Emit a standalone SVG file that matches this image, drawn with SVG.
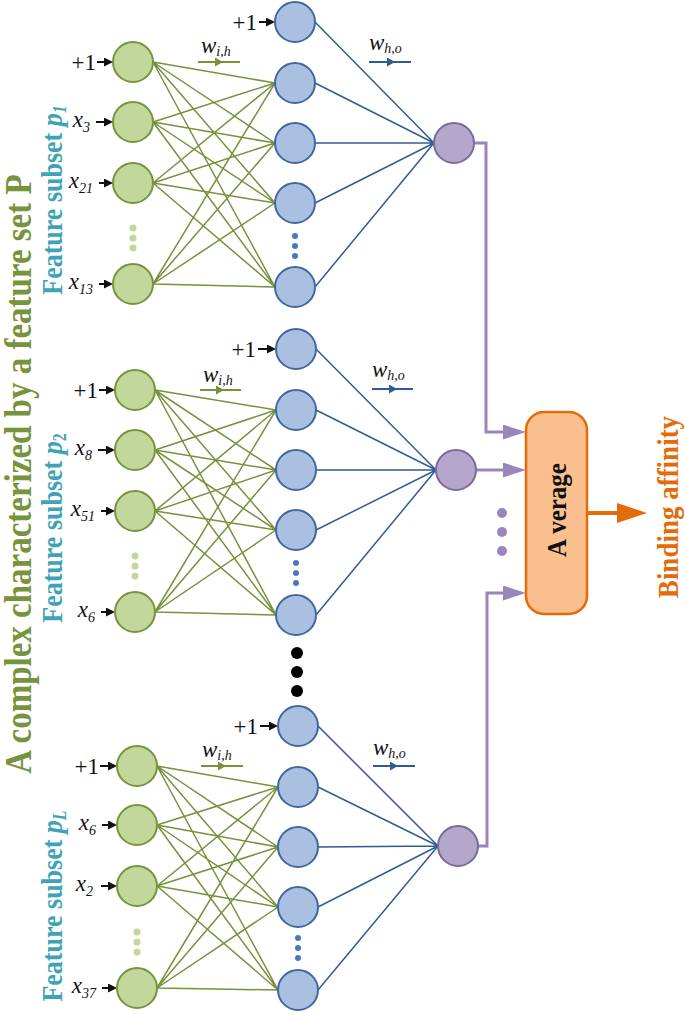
<svg xmlns="http://www.w3.org/2000/svg" width="685" height="1014" viewBox="0 0 685 1014">
<defs>
<style>
.gn{fill:#c3d69b;stroke:#77933c;stroke-width:2}
.bn{fill:#a9c0e1;stroke:#41679f;stroke-width:2}
.pn{fill:#b5a6cc;stroke:#7a6a96;stroke-width:2}
.gl{fill:none;stroke:#76923c;stroke-width:1.5}
.bl{fill:none;stroke:#2f5c97;stroke-width:1.5}
.pl{fill:none;stroke:#9a86bd;stroke-width:3}
.ka{fill:none;stroke:#111;stroke-width:2}
.gw{fill:none;stroke:#76923c;stroke-width:2}
.bw{fill:none;stroke:#2f5c97;stroke-width:2}
.lab{font-size:23px;fill:#111}
.it{font-style:italic}
.sub{font-size:14px}
.gd{fill:#c3d69b}
.bd{fill:#4a78c0}
.pd{fill:#9a86bd}
.kd{fill:#000}
.rot{font-weight:bold;text-anchor:middle}
</style>
<marker id="mk" markerUnits="userSpaceOnUse" markerWidth="10" markerHeight="10" refX="0" refY="4.5" orient="auto"><path d="M0,0 L9,4.5 L0,9 z" fill="#111"/></marker>
<marker id="mg" markerUnits="userSpaceOnUse" markerWidth="10" markerHeight="10" refX="3" refY="4.5" orient="auto"><path d="M0,0 L8,4.5 L0,9 z" fill="#76923c"/></marker>
<marker id="mb" markerUnits="userSpaceOnUse" markerWidth="10" markerHeight="10" refX="3" refY="4.5" orient="auto"><path d="M0,0 L8,4.5 L0,9 z" fill="#2f5c97"/></marker>
<marker id="mp" markerUnits="userSpaceOnUse" markerWidth="24" markerHeight="16" refX="0" refY="7.5" orient="auto"><path d="M0,0 L23,7.5 L0,15 z" fill="#9a86bd"/></marker>
<marker id="mo" markerUnits="userSpaceOnUse" markerWidth="32" markerHeight="22" refX="0" refY="10" orient="auto"><path d="M0,0 L30,10 L0,20 z" fill="#e36c09"/></marker>
</defs>
<rect width="685" height="1014" fill="#fff"/>

<g id="connectors">
<path class="gl" d="M153,62L275,83M153,62L275,143M153,62L275,203M153,62L275,287M153,122L275,83M153,122L275,143M153,122L275,203M153,122L275,287M153,183L275,83M153,183L275,143M153,183L275,203M153,183L275,287M153,284L275,83M153,284L275,143M153,284L275,203M153,284L275,287"/>
<path class="gl" d="M155,390L276,410M155,390L276,470M155,390L276,530M155,390L276,615M155,450L276,410M155,450L276,470M155,450L276,530M155,450L276,615M155,511L276,410M155,511L276,470M155,511L276,530M155,511L276,615M155,612L276,410M155,612L276,470M155,612L276,530M155,612L276,615"/>
<path class="gl" d="M157,766L278,787M157,766L278,847M157,766L278,907M157,766L278,990M157,825L278,787M157,825L278,847M157,825L278,907M157,825L278,990M157,886L278,787M157,886L278,847M157,886L278,907M157,886L278,990M157,988L278,787M157,988L278,847M157,988L278,907M157,988L278,990"/>
<path class="bl" d="M315,22L434,143M315,83L434,143M315,143L434,143M315,203L434,143M315,287L434,143"/>
<path class="bl" d="M316,349L436,470M316,410L436,470M316,470L436,470M316,530L436,470M316,615L436,470"/>
<path class="bl" d="M318,726L438,846M318,787L438,846M318,847L438,846M318,907L438,846M318,990L438,846"/>
<path class="pl" d="M474,143H486V432H503" marker-end="url(#mp)"/>
<path class="pl" d="M476,470H503" marker-end="url(#mp)"/>
<path class="pl" d="M478,846H487V593H503" marker-end="url(#mp)"/>
<path d="M587,513H617" fill="none" stroke="#e36c09" stroke-width="4" marker-end="url(#mo)"/>
<path class="ka" d="M97,62H104" marker-end="url(#mk)"/>
<path class="ka" d="M96,122H104" marker-end="url(#mk)"/>
<path class="ka" d="M99,183H104" marker-end="url(#mk)"/>
<path class="ka" d="M99,284H104" marker-end="url(#mk)"/>
<path class="ka" d="M99,390H106" marker-end="url(#mk)"/>
<path class="ka" d="M98,450H106" marker-end="url(#mk)"/>
<path class="ka" d="M101,511H106" marker-end="url(#mk)"/>
<path class="ka" d="M101,612H106" marker-end="url(#mk)"/>
<path class="ka" d="M100,766H108" marker-end="url(#mk)"/>
<path class="ka" d="M102,825H108" marker-end="url(#mk)"/>
<path class="ka" d="M101,886H108" marker-end="url(#mk)"/>
<path class="ka" d="M102,988H108" marker-end="url(#mk)"/>
<path class="ka" d="M259,22H266" marker-end="url(#mk)"/>
<path class="ka" d="M258,349H267" marker-end="url(#mk)"/>
<path class="ka" d="M260,726H269" marker-end="url(#mk)"/>
<path class="gw" d="M198,62H218H240" marker-mid="url(#mg)"/>
<path class="bw" d="M369,62H390H411" marker-mid="url(#mb)"/>
<path class="gw" d="M200,390H219H241" marker-mid="url(#mg)"/>
<path class="bw" d="M372,389H392H413" marker-mid="url(#mb)"/>
<path class="gw" d="M201,766H221H243" marker-mid="url(#mg)"/>
<path class="bw" d="M373,766H393H415" marker-mid="url(#mb)"/>
</g>

<g font-family="'Liberation Serif', 'Times New Roman', 'DejaVu Serif', serif">
<g id="title">
<text class="rot" font-size="33" fill="#77933c" transform="translate(31,474) rotate(-90) scale(1,1.12)">A complex characterized by a feature set P</text>
</g>
<g id="subset-labels">
<text class="rot" font-size="26" fill="#3fa3b8" transform="translate(62,200) rotate(-90) scale(1,1.12)">Feature subset <tspan font-style="italic">p</tspan><tspan font-style="italic" font-size="16" dy="4">1</tspan></text>
<text class="rot" font-size="26" fill="#3fa3b8" transform="translate(62,528) rotate(-90) scale(1,1.12)">Feature subset <tspan font-style="italic">p</tspan><tspan font-size="16" dy="4">2</tspan></text>
<text class="rot" font-size="26" fill="#3fa3b8" transform="translate(62,906) rotate(-90) scale(1,1.12)">Feature subset <tspan font-style="italic">p</tspan><tspan font-style="italic" font-size="16" dy="4">L</tspan></text>
</g>

<g id="b1-in1"><circle class="gn" cx="133" cy="62" r="20"/><text class="lab" x="96" y="70" text-anchor="end">+1</text></g>
<g id="b1-in2"><circle class="gn" cx="133" cy="122" r="20"/><text class="lab it" x="90" y="127" text-anchor="end">x<tspan class="sub" dy="5">3</tspan></text></g>
<g id="b1-in3"><circle class="gn" cx="133" cy="183" r="20"/><text class="lab it" x="93" y="188" text-anchor="end">x<tspan class="sub" dy="5">21</tspan></text></g>
<g id="b1-indots"><circle class="gd" cx="133" cy="228" r="3.5"/><circle class="gd" cx="133" cy="238" r="3.5"/><circle class="gd" cx="133" cy="248" r="3.5"/></g>
<g id="b1-in4"><circle class="gn" cx="133" cy="284" r="20"/><text class="lab it" x="93" y="289" text-anchor="end">x<tspan class="sub" dy="5">13</tspan></text></g>
<g id="b1-h1"><circle class="bn" cx="295" cy="22" r="20"/><text class="lab" x="257" y="30" text-anchor="end">+1</text></g>
<g id="b1-h2"><circle class="bn" cx="295" cy="83" r="20"/></g>
<g id="b1-h3"><circle class="bn" cx="295" cy="143" r="20"/></g>
<g id="b1-h4"><circle class="bn" cx="295" cy="203" r="20"/></g>
<g id="b1-hdots"><circle class="bd" cx="295" cy="236" r="3"/><circle class="bd" cx="295" cy="246" r="3"/><circle class="bd" cx="295" cy="256" r="3"/></g>
<g id="b1-h5"><circle class="bn" cx="295" cy="287" r="20"/></g>
<g id="b1-out"><circle class="pn" cx="454" cy="143" r="20"/></g>
<g id="b1-w"><text class="lab it" x="201" y="53">w<tspan class="sub" dy="3">i,h</tspan></text><text class="lab it" x="369" y="50">w<tspan class="sub" dy="3">h,o</tspan></text></g>

<g id="b2-in1"><circle class="gn" cx="135" cy="390" r="20"/><text class="lab" x="98" y="398" text-anchor="end">+1</text></g>
<g id="b2-in2"><circle class="gn" cx="135" cy="450" r="20"/><text class="lab it" x="92" y="455" text-anchor="end">x<tspan class="sub" dy="5">8</tspan></text></g>
<g id="b2-in3"><circle class="gn" cx="135" cy="511" r="20"/><text class="lab it" x="95" y="516" text-anchor="end">x<tspan class="sub" dy="5">51</tspan></text></g>
<g id="b2-indots"><circle class="gd" cx="135" cy="556" r="3.5"/><circle class="gd" cx="135" cy="566" r="3.5"/><circle class="gd" cx="135" cy="576" r="3.5"/></g>
<g id="b2-in4"><circle class="gn" cx="135" cy="612" r="20"/><text class="lab it" x="95" y="617" text-anchor="end">x<tspan class="sub" dy="5">6</tspan></text></g>
<g id="b2-h1"><circle class="bn" cx="296" cy="349" r="20"/><text class="lab" x="256" y="357" text-anchor="end">+1</text></g>
<g id="b2-h2"><circle class="bn" cx="296" cy="410" r="20"/></g>
<g id="b2-h3"><circle class="bn" cx="296" cy="470" r="20"/></g>
<g id="b2-h4"><circle class="bn" cx="296" cy="530" r="20"/></g>
<g id="b2-hdots"><circle class="bd" cx="296" cy="563" r="3"/><circle class="bd" cx="296" cy="573" r="3"/><circle class="bd" cx="296" cy="583" r="3"/></g>
<g id="b2-h5"><circle class="bn" cx="296" cy="615" r="20"/></g>
<g id="b2-out"><circle class="pn" cx="456" cy="470" r="20"/></g>
<g id="b2-w"><text class="lab it" x="203" y="382">w<tspan class="sub" dy="3">i,h</tspan></text><text class="lab it" x="372" y="377">w<tspan class="sub" dy="3">h,o</tspan></text></g>

<g id="block-dots"><circle class="kd" cx="297" cy="653" r="6"/><circle class="kd" cx="297" cy="672" r="6"/><circle class="kd" cx="297" cy="691" r="6"/></g>

<g id="b3-in1"><circle class="gn" cx="137" cy="766" r="20"/><text class="lab" x="99" y="774" text-anchor="end">+1</text></g>
<g id="b3-in2"><circle class="gn" cx="137" cy="825" r="20"/><text class="lab it" x="96" y="830" text-anchor="end">x<tspan class="sub" dy="5">6</tspan></text></g>
<g id="b3-in3"><circle class="gn" cx="137" cy="886" r="20"/><text class="lab it" x="93" y="891" text-anchor="end">x<tspan class="sub" dy="5">2</tspan></text></g>
<g id="b3-indots"><circle class="gd" cx="137" cy="932" r="3.5"/><circle class="gd" cx="137" cy="942" r="3.5"/><circle class="gd" cx="137" cy="952" r="3.5"/></g>
<g id="b3-in4"><circle class="gn" cx="137" cy="988" r="20"/><text class="lab it" x="96" y="993" text-anchor="end">x<tspan class="sub" dy="5">37</tspan></text></g>
<g id="b3-h1"><circle class="bn" cx="298" cy="726" r="20"/><text class="lab" x="258" y="734" text-anchor="end">+1</text></g>
<g id="b3-h2"><circle class="bn" cx="298" cy="787" r="20"/></g>
<g id="b3-h3"><circle class="bn" cx="298" cy="847" r="20"/></g>
<g id="b3-h4"><circle class="bn" cx="298" cy="907" r="20"/></g>
<g id="b3-hdots"><circle class="bd" cx="298" cy="938" r="3"/><circle class="bd" cx="298" cy="948" r="3"/><circle class="bd" cx="298" cy="958" r="3"/></g>
<g id="b3-h5"><circle class="bn" cx="298" cy="990" r="20"/></g>
<g id="b3-out"><circle class="pn" cx="458" cy="846" r="20"/></g>
<g id="b3-w"><text class="lab it" x="202" y="757">w<tspan class="sub" dy="3">i,h</tspan></text><text class="lab it" x="373" y="755">w<tspan class="sub" dy="3">h,o</tspan></text></g>

<g id="out-dots"><circle class="pd" cx="502" cy="513" r="5"/><circle class="pd" cx="502" cy="532" r="5"/><circle class="pd" cx="502" cy="551" r="5"/></g>

<g id="average">
<rect x="526" y="412" width="61" height="202" rx="18" ry="18" fill="#fabf8f" stroke="#e36c09" stroke-width="2.5"/>
<text class="rot" font-size="25" fill="#111" transform="translate(566,510) rotate(-90) scale(1,1.12)">A<tspan dx="5">verage</tspan></text>
</g>
<g id="binding">
<text class="rot" font-size="27" fill="#e36c09" transform="translate(678,507) rotate(-90) scale(1,1.12)">Binding affinity</text>
</g>
</g>
</svg>
